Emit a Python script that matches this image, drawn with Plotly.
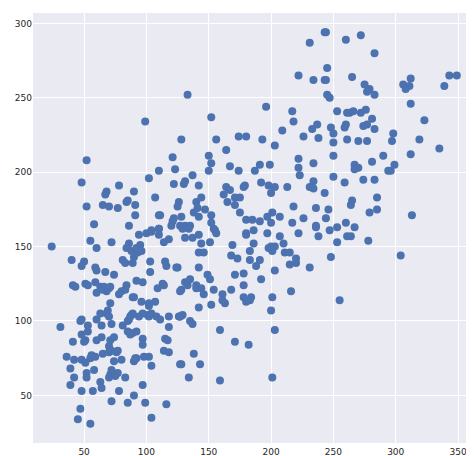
import plotly.graph_objects as go

pts = [
(247,161),(253,163),(267,163),(253,153),(261,157),(264,157),(278,154),(248,143),(304,144),(255,114),
(244,294),(260,289),(272,292),(283,280),(245,270),(244,262),(265,264),(245,252),(247,250),(275,259),
(279,256),(277,254),(283,252),(306,259),(312,263),(311,258),(308,256),(339,258),(343,265),(349,265),
(312,246),(323,235),(253,241),(261,240),(263,240),(266,241),(272,240),(276,242),(281,236),(248,230),
(250,226),(259,230),(260,232),(274,231),(277,232),(283,229),(298,226),(297,221),(250,220),(261,222),
(270,221),(277,221),(319,222),(335,216),(312,212),(250,211),(290,211),(281,207),(267,205),(270,203),
(267,202),(299,205),(294,201),(296,201),(250,197),(259,193),(274,195),(283,195),(243,186),(265,181),
(264,178),(285,183),(279,173),(285,175),(313,171),(246,175),(244,169),(260,166),
(243,294),(231,287),(222,265),(234,262),(243,262),(133,252),(196,244),(152,237),(217,241),(218,234),
(209,228),(233,229),(237,232),(226,224),(238,223),(128,222),(156,222),(174,224),(180,224),(193,222),
(203,218),(164,215),(150,211),(152,206),(150,201),(222,209),(234,206),(167,204),(174,201),(191,205),
(187,201),(199,205),(222,203),(223,198),(137,198),(130,192),(131,194),(142,191),(192,193),(179,191),
(178,190),(164,190),(167,188),(198,191),(203,190),(200,186),(213,190),(234,194),(231,190),(234,189),
(162,185),(171,183),(175,183),(165,180),(171,178),(175,173),(140,180),(144,183),(141,176),(147,175),
(138,173),(142,170),(126,180),(125,177),(128,170),(152,171),(152,166),(218,177),(236,176),(207,170),
(201,173),(197,170),(200,166),(180,168),(185,168),(191,167),(217,166),(226,169),(236,164),(127,164),
(131,164),(135,164),(154,162),
(129,162),(134,162),(131,156),(137,156),(142,158),(144,152),(142,146),(146,146),(155,161),(156,159),
(151,153),(169,151),(168,144),(173,142),(180,158),(180,159),(186,161),(186,152),(183,147),(183,141),
(188,137),(191,141),(197,159),(207,157),(198,149),(200,150),(203,150),(201,147),(210,152),(211,146),
(215,146),(220,142),(220,139),(215,138),(222,159),(231,136),(236,163),(238,157),(203,134),(192,128),
(171,131),(178,132),(178,124),(125,136),(142,136),(149,131),(151,128),(135,128),(131,126),(133,124),
(128,121),(140,124),(140,122),(144,122),(146,118),(154,121),(161,118),(152,111),(168,121),(161,114),
(163,112),(178,116),(180,113),(184,116),(183,114),(142,109),(216,120),(201,116),(200,107),(203,94),
(127,103),(129,104),(135,100),(137,98),(159,94),(171,86),(182,84),(138,78),(128,71),(143,71),
(134,62),(159,60),(201,62),
(99,234),(52,208),(48,193),(52,177),(110,201),(102,196),(121,210),(123,202),(122,192),(78,191),
(68,187),(67,185),(90,187),(65,178),(70,177),(77,176),(85,181),(84,180),(91,178),(107,183),
(91,171),(110,171),(111,171),(58,165),(86,164),(122,169),(121,167),(120,164),(110,162),(104,161),
(24,150),(55,154),(60,149),(72,153),(94,158),(100,159),(104,160),(110,162),(110,158),(114,153),
(118,155),(86,152),(84,149),(88,147),(92,149),(95,151),(96,147),(93,146),(90,143),(89,139),
(40,141),(50,140),(48,137),(59,136),(60,134),(67,133),(74,131),(81,141),(83,139),(103,140),
(103,133),(115,140),(116,137),(124,136),(41,124),(43,123),(51,125),(53,124),(59,126),(63,123),
(66,123),(68,120),(70,122),(71,123),(65,121),(60,119),(78,118),(80,120),(84,124),(83,121),
(92,127),(97,126),(89,116),(90,116),(96,113),(102,112),(102,110),(107,113),(109,122),(113,125),
(114,124),(127,120),(71,112),(69,107),(68,105),(70,103),(63,105),(60,101),(89,105),(87,103),
(86,101),(85,100),(88,104),(97,105),(94,103),(101,104),(104,105),(108,103),(111,101),(102,103),
(118,103),(118,96),(126,103),(127,103),(92,93),(89,92),(85,93),(87,91),(81,97),(72,98),
(64,97),(53,97),(53,93),(48,101),(47,100),(48,91),(51,87),(50,86),(31,96),(41,86),
(64,89),(60,87),(71,87),(70,83),(74,89),(70,79),(72,80),(77,80),(76,79),(80,74),
(74,73),(97,88),(97,84),(98,76),(102,76),(104,70),(92,75),(90,73),(91,75),(115,88),
(117,87),(114,80),(118,79),(65,78),(59,76),(56,77),(55,75),(36,76),(42,74),(48,74),
(51,72),(39,68),(42,62),(39,57),(52,65),(52,62),(58,67),(63,59),(64,55),(57,53),
(72,67),(71,64),(73,65),(77,65),(75,63),(70,62),(83,62),(78,53),(72,46),(48,53),
(47,41),(45,34),(55,31),(90,50),(85,45),(97,57),(99,45),(104,35),(116,44),(127,71),
]
x_values = [p[0] for p in pts]
y_values = [p[1] for p in pts]

fig = go.Figure(go.Scatter(
    x=x_values, y=y_values, mode="markers",
    marker=dict(color="#4C72B0", size=8, line=dict(width=0)),
))
fig.update_layout(
    width=474, height=456,
    margin=dict(l=25, r=9, t=5, b=21),
    paper_bgcolor="white", plot_bgcolor="#EAEAF2",
    showlegend=False,
    font=dict(family="DejaVu Sans", size=9, color="#262626"),
)
fig.update_xaxes(range=[9, 362], tickvals=[50,100,150,200,250,300,350],
                 gridcolor="white", gridwidth=1, zeroline=False, showline=False, ticks="",
                 ticklabelstandoff=2)
fig.update_yaxes(range=[18, 307], tickvals=[50,100,150,200,250,300],
                 gridcolor="white", gridwidth=1, zeroline=False, showline=False, ticks="")
fig.write_html("out.html")
